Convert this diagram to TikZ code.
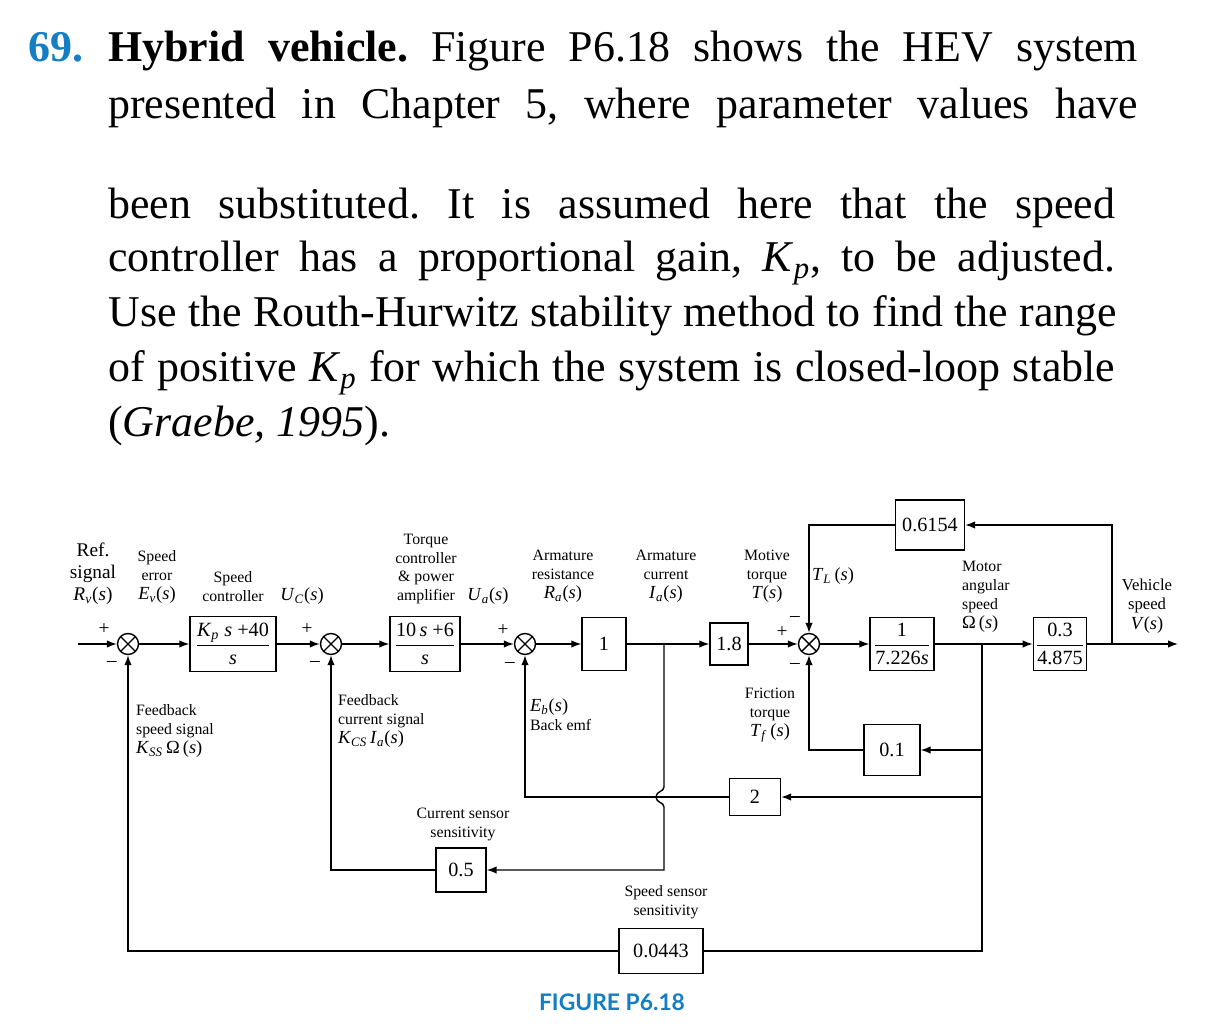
\documentclass[tikz,border=0pt]{standalone}
\usepackage{fontspec}
\setmainfont{Liberation Serif}
\newfontfamily\capfont{Lato}
\usetikzlibrary{arrows.meta,calc}
\definecolor{hevblue}{RGB}{20,125,195}
\frenchspacing
% signal name such as R_v(s)
\newcommand{\sg}[2]{\textit{#1}\textsubscript{\textit{#2}}(\textit{s})}
\newcommand{\sgl}[1]{{\fontsize{10.5}{10.8}\selectfont #1}}

\begin{document}
\begin{tikzpicture}[x=0.02cm, y=-0.02cm,
  font=\fontsize{9}{10.8}\selectfont,
  para/.style={font=\fontsize{25}{30}\selectfont, inner sep=0pt, anchor=base west},
  blk/.style={draw, line width=0.8pt, inner sep=1pt, font=\fontsize{11.5}{13}\selectfont},
  sumjn/.style={draw, circle, line width=0.8pt, minimum size=0.42cm, inner sep=0pt,
    path picture={\draw[line width=0.8pt]
      (path picture bounding box.north west) -- (path picture bounding box.south east)
      (path picture bounding box.south west) -- (path picture bounding box.north east);}},
  wire/.style={line width=0.8pt},
  sig/.style={wire, -{Latex[length=2mm,width=1.5mm]}},
  lbl/.style={align=center, inner sep=1pt},
  sgn/.style={font=\fontsize{11}{12}\selectfont, inner sep=0pt}
]
\useasboundingbox (0,0) rectangle (1211,1033);

% Problem text
\node[para] (num) at (28,62) {\textcolor{hevblue}{\textbf{69.}}};
\node[para] (p1) at (108,62) {\makebox[20.6cm][s]{\textbf{Hybrid vehicle.} Figure P6.18 shows the HEV system}};
\node[para] (p2) at (108,119) {\makebox[20.6cm][s]{presented in Chapter 5, where parameter values have}};
\node[para] (p3) at (108,219) {\makebox[20.14cm][s]{been substituted. It is assumed here that the speed}};
\node[para] (p4) at (108,272) {\makebox[20.14cm][s]{controller has a proportional gain, \textit{K}\textsubscript{\textit{p}}, to be adjusted.}};
\node[para] (p5) at (108,327) {\makebox[20.18cm][s]{Use the Routh-Hurwitz stability method to find the range}};
\node[para] (p6) at (108,382) {\makebox[20.14cm][s]{of positive \textit{K}\textsubscript{\textit{p}} for which the system is closed-loop stable}};
\node[para] (p7) at (108,437) {(\textit{Graebe, 1995}).};

% Forward path
\node[sumjn] (sum1) at (128,644) {};
\node[blk, minimum width=1.72cm, minimum height=1.1cm] (ctrl) at (233,644)
  {$\displaystyle\frac{\hbox{\textit{K}\textsubscript{\textit{p}} \textit{s} +40}}{\hbox{\textit{s}}}$};
\node[sumjn] (sum2) at (331,644) {};
\node[blk, minimum width=1.4cm, minimum height=1.1cm] (amp) at (425,644)
  {$\displaystyle\frac{\hbox{10\,\textit{s} +6}}{\hbox{\textit{s}}}$};
\node[sumjn] (sum3) at (525,644) {};
\node[blk, minimum width=0.88cm, minimum height=1.06cm] (res) at (604,644) {1};
\node[blk, minimum width=0.76cm, minimum height=0.84cm] (kt) at (729,644) {1.8};
\node[sumjn] (sum4) at (809,644) {};
\node[blk, minimum width=1.28cm, minimum height=1.06cm] (inert) at (902,644)
  {$\displaystyle\frac{\hbox{1}}{\hbox{7.226\textit{s}}}$};
\node[blk, minimum width=1.02cm, minimum height=1.06cm] (gear) at (1060,644)
  {$\displaystyle\frac{\hbox{0.3}}{\hbox{4.875}}$};

% Feedback blocks
\node[blk, minimum width=1.38cm, minimum height=1cm] (kl) at (930,525) {0.6154};
\node[blk, minimum width=1.12cm, minimum height=1.02cm] (kf) at (892,750) {0.1};
\node[blk, minimum width=1.02cm, minimum height=0.74cm] (kb) at (755,797) {2};
\node[blk, minimum width=1cm, minimum height=0.88cm] (kcs) at (461,870) {0.5};
\node[blk, minimum width=1.68cm, minimum height=0.9cm] (kss) at (661,951) {0.0443};

% Branch points
\coordinate (in) at (78,644);
\coordinate (ia) at (664,644);
\coordinate (om) at (982,644);
\coordinate (vb) at (1112,644);
\coordinate (out) at (1178,644);
\coordinate (hop) at (ia |- kb.west);

% Signs
\node[sgn] (s1p) at ($(sum1)+(-24,-15)$) {+};
\node[sgn] (s1m) at ($(sum1)+(-16,20)$) {--};
\node[sgn] (s2p) at ($(sum2)+(-24,-15)$) {+};
\node[sgn] (s2m) at ($(sum2)+(-16,20)$) {--};
\node[sgn] (s3p) at ($(sum3)+(-22,-14)$) {+};
\node[sgn] (s3m) at ($(sum3)+(-15,21)$) {--};
\node[sgn] (s4p) at ($(sum4)+(-27,-12)$) {+};
\node[sgn] (s4t) at ($(sum4)+(-14,-25)$) {--};
\node[sgn] (s4m) at ($(sum4)+(-14,22)$) {--};

% Labels
\node[lbl, font=\fontsize{11}{12.5}\selectfont] (lref) at (93,574) {Ref.\\signal\\\sg{R}{v}};
\node[lbl] (lerr) at (157,577) {Speed\\error\\\sgl{\sg{E}{v}}};
\node[lbl] (lctrl) at (233,587) {Speed\\controller};
\node[lbl] (luc) at (302,596) {\sgl{\sg{U}{C}}};
\node[lbl] (lamp) at (426,569) {Torque\\controller\\\& power\\amplifier};
\node[lbl] (lua) at (488,596) {\sgl{\sg{U}{a}}};
\node[lbl] (lres) at (563,576) {Armature\\resistance\\\sgl{\sg{R}{a}}};
\node[lbl] (lcur) at (666,576) {Armature\\current\\\sgl{\sg{I}{a}}};
\node[lbl] (ltq) at (767,576) {Motive\\torque\\\sgl{\textit{T}(\textit{s})}};
\node[lbl] (ltl) at (833,576) {\sgl{\textit{T}\textsubscript{\textit{L}}\,(\textit{s})}};
\node[lbl, align=left, anchor=west] (lom) at (960,597) {Motor\\angular\\speed\\\sgl{Ω\,(\textit{s})}};
\node[lbl, font=\fontsize{9.5}{11}\selectfont] (lv) at (1147,606) {Vehicle\\speed\\\sgl{\textit{V}(\textit{s})}};
\node[lbl, align=left, anchor=west] (lfs) at (134,731) {Feedback\\speed signal\\\sgl{\textit{K}\textsubscript{\textit{SS}}\,Ω\,(\textit{s})}};
\node[lbl, align=left, anchor=west] (lfc) at (336,721) {Feedback\\current signal\\\sgl{\textit{K}\textsubscript{\textit{CS}}\,\sg{I}{a}}};
\node[lbl, align=left, anchor=west] (leb) at (528,715) {\sgl{\sg{E}{b}}\\Back emf};
\node[lbl] (lfr) at (770,715) {Friction\\torque\\\sgl{\textit{T}\textsubscript{\textit{f}}\,(\textit{s})}};
\node[lbl] (lcs) at (463,824) {Current sensor\\sensitivity};
\node[lbl] (lss) at (666,902) {Speed sensor\\sensitivity};
\node[font=\capfont\bfseries\fontsize{13}{14}\selectfont, text=hevblue] (fig) at (612,1002) {FIGURE P6.18};

% Forward connections
\draw[sig] (in) -- (sum1);
\draw[sig] (sum1) -- (ctrl);
\draw[sig] (ctrl) -- (sum2);
\draw[sig] (sum2) -- (amp);
\draw[sig] (amp) -- (sum3);
\draw[sig] (sum3) -- (res);
\draw[sig] (res) -- (kt);
\draw[sig] (kt) -- (sum4);
\draw[sig] (sum4) -- (inert);
\draw[sig] (inert) -- (gear);
\draw[sig] (gear) -- (out);

% Load torque loop
\draw[sig] (vb) |- (kl.east);
\draw[sig] (kl.west) -| (sum4.north);

% Friction loop
\draw[sig] (om) |- (kf.east);
\draw[sig] (kf.west) -| (sum4.south);

% Back emf loop
\draw[sig] (om) |- (kb.east);
\draw[sig] (kb.west) -| (sum3.south);

% Current loop, hopping over the back emf line
\draw[sig] (ia) -- ($(hop)+(0,-10)$)
  .. controls ($(hop)+(0,-5)$) and ($(hop)+(-8,-6)$) .. ($(hop)+(-8,0)$)
  .. controls ($(hop)+(-8,6)$) and ($(hop)+(0,5)$) .. ($(hop)+(0,10)$)
  |- (kcs.east);
\draw[sig] (kcs.west) -| (sum2.south);

% Speed loop
\draw[wire] (om) |- (kss.east);
\draw[sig] (kss.west) -| (sum1.south);
\end{tikzpicture}
\end{document}
